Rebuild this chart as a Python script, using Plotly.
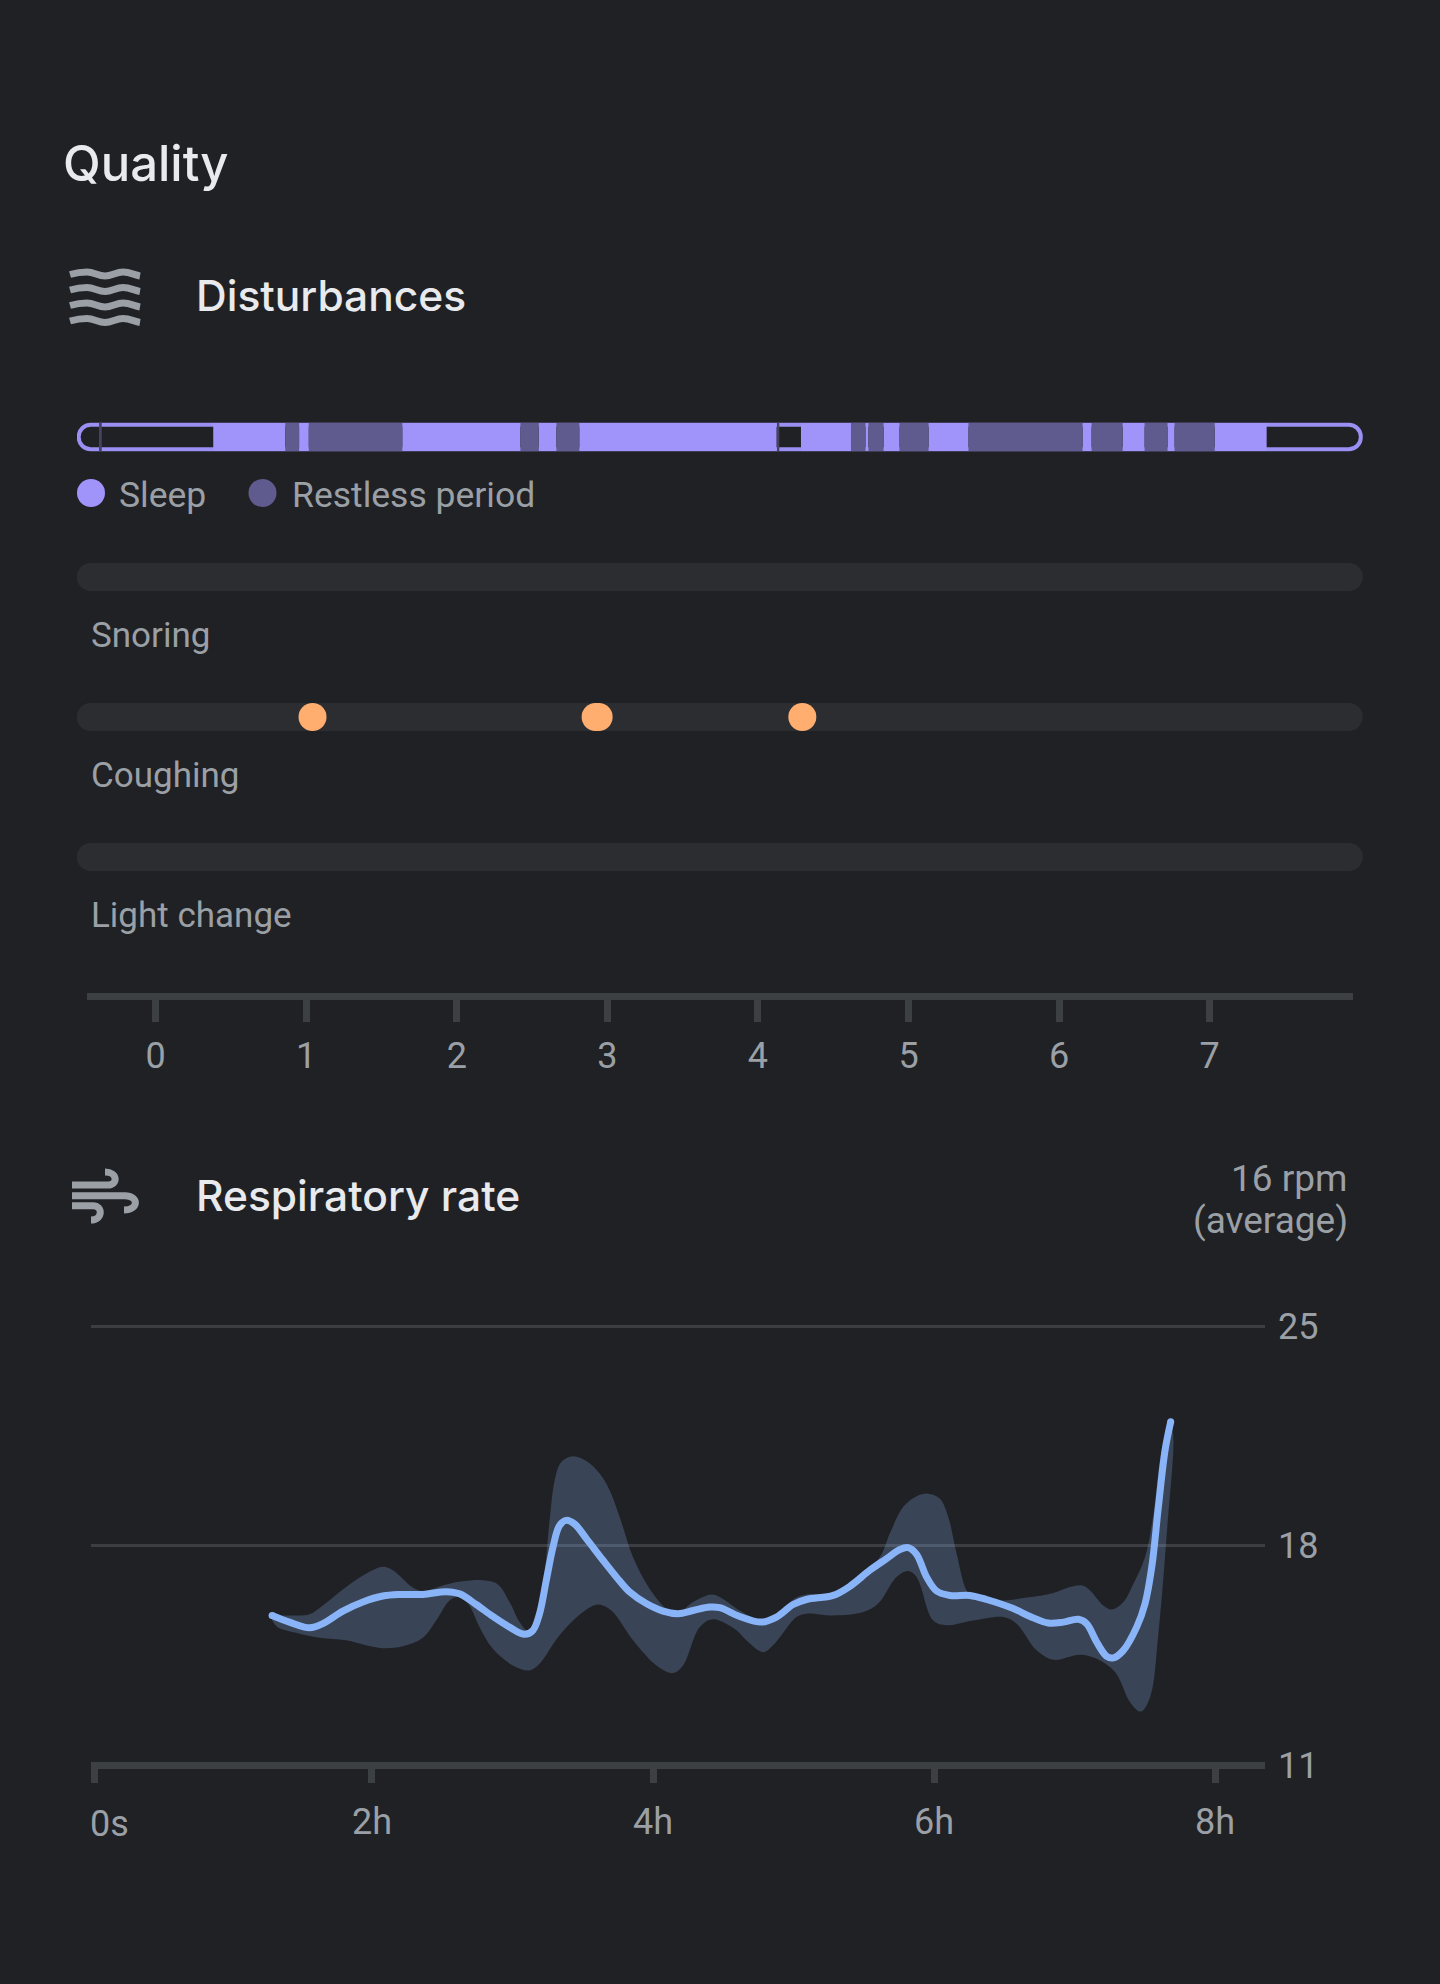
import plotly.graph_objects as go

W = 1440
H = 1984
BG = "#202124"
SLEEP = "#a094fb"
RESTLESS = "#5f5b8e"
TRACK = "#2b2d31"
ORANGE = "#ffae70"
AXIS = "#3c4043"
LABEL = "#9aa0a6"
HEAD = "#e8eaed"
BLUE = "#8ab4f8"

# disturbances, in hours
rows = ["Light change", "Coughing", "Snoring", "Sleep"]
track_start = -0.519
track_end = 8.017
sleep_start = [0.387, 0.957, 1.642, 2.548, 2.817, 4.288, 4.716, 4.836, 5.135, 6.157, 6.423, 6.721, 7.034]
sleep_end = [0.865, 1.021, 2.426, 2.665, 4.126, 4.620, 4.736, 4.942, 5.400, 6.217, 6.569, 6.768, 7.379]
restless_start = [0.865, 1.021, 2.426, 2.665, 4.620, 4.736, 4.942, 5.400, 6.217, 6.569, 6.768]
restless_end = [0.957, 1.642, 2.548, 2.817, 4.716, 4.836, 5.135, 6.157, 6.423, 6.721, 7.034]
gap_marks = [-0.365, 4.132]
cough_times = [1.046, 2.925, 2.945, 4.297]
hour_ticks = [0, 1, 2, 3, 4, 5, 6, 7]

# respiratory rate
rate_hours = [1.269, 1.393, 1.536, 1.631, 1.774, 1.917, 2.059, 2.178, 2.345, 2.512, 2.607, 2.726, 2.845, 2.964,
              3.071, 3.131, 3.178, 3.226, 3.274, 3.321, 3.369, 3.429, 3.512, 3.631, 3.726, 3.821, 3.940, 4.059,
              4.167, 4.274, 4.393, 4.464, 4.607, 4.762, 4.869, 4.988, 5.083, 5.274, 5.393, 5.535, 5.655, 5.750,
              5.809, 5.869, 5.940, 6.012, 6.107, 6.250, 6.369, 6.560, 6.679, 6.809, 6.917, 7.024, 7.083, 7.155,
              7.226, 7.274, 7.345, 7.440, 7.500, 7.548, 7.595, 7.643, 7.683]
rate_values = [15.78, 15.57, 15.39, 15.52, 15.92, 16.21, 16.40, 16.45, 16.45, 16.54, 16.47, 16.13, 15.75, 15.41,
               15.18, 15.31, 15.84, 16.90, 17.96, 18.65, 18.81, 18.69, 18.23, 17.54, 17.01, 16.53, 16.16, 15.92,
               15.84, 15.94, 16.05, 16.03, 15.75, 15.57, 15.73, 16.13, 16.29, 16.42, 16.71, 17.22, 17.59, 17.88,
               17.94, 17.73, 17.01, 16.56, 16.42, 16.42, 16.29, 16.00, 15.75, 15.54, 15.57, 15.66, 15.52, 14.93,
               14.48, 14.43, 14.67, 15.41, 16.16, 17.33, 19.24, 21.05, 21.95]

upper_hours = [1.269, 1.393, 1.536, 1.631, 1.797, 1.940, 2.059, 2.131, 2.274, 2.345, 2.512, 2.631, 2.774, 2.881,
               2.964, 3.036, 3.095, 3.155, 3.202, 3.250, 3.286, 3.333, 3.417, 3.512, 3.607, 3.678, 3.750, 3.845,
               3.964, 4.083, 4.167, 4.274, 4.405, 4.464, 4.607, 4.762, 4.869, 5.000, 5.083, 5.274, 5.417, 5.607,
               5.678, 5.774, 5.869, 5.952, 6.036, 6.095, 6.155, 6.226, 6.274, 6.488, 6.655, 6.845, 6.964, 7.048,
               7.107, 7.202, 7.262, 7.345, 7.417, 7.500, 7.560, 7.619, 7.683]
upper_values = [15.78, 15.78, 15.82, 16.10, 16.69, 17.11, 17.33, 17.22, 16.67, 16.56, 16.77, 16.87, 16.90, 16.77,
                16.21, 15.57, 15.29, 15.73, 16.69, 18.81, 20.09, 20.67, 20.85, 20.70, 20.30, 19.77, 18.92, 17.64,
                16.63, 16.00, 15.87, 16.21, 16.45, 16.37, 15.94, 15.62, 15.78, 16.32, 16.45, 16.50, 16.85, 17.64,
                18.39, 19.24, 19.58, 19.66, 19.50, 18.92, 17.75, 16.58, 16.37, 16.26, 16.35, 16.50, 16.69, 16.74,
                16.58, 16.10, 15.97, 16.21, 16.79, 17.64, 19.03, 21.05, 21.95]

lower_hours = [1.269, 1.309, 1.440, 1.607, 1.797, 1.940, 2.059, 2.202, 2.345, 2.440, 2.536, 2.595, 2.667, 2.750,
               2.845, 2.988, 3.107, 3.178, 3.321, 3.488, 3.595, 3.690, 3.845, 4.012, 4.131, 4.202, 4.321, 4.417,
               4.583, 4.654, 4.774, 4.845, 5.012, 5.083, 5.274, 5.488, 5.595, 5.726, 5.809, 5.869, 5.988, 6.083,
               6.274, 6.488, 6.583, 6.726, 6.845, 7.036, 7.155, 7.286, 7.393, 7.469, 7.536, 7.595, 7.655, 7.702, 7.683]
lower_values = [15.62, 15.41, 15.23, 15.07, 14.99, 14.83, 14.74, 14.80, 15.07, 15.62, 16.26, 16.37, 16.16, 15.41,
                14.72, 14.19, 14.03, 14.24, 15.15, 15.89, 16.13, 15.94, 14.99, 14.19, 13.95, 14.19, 15.41, 15.66,
                15.31, 14.99, 14.61, 14.83, 15.73, 15.84, 15.78, 15.89, 16.16, 17.01, 17.20, 17.01, 15.62, 15.47,
                15.62, 15.73, 15.52, 14.67, 14.37, 14.53, 14.40, 13.98, 13.02, 12.72, 13.18, 15.20, 18.39, 21.47, 21.95]

rate_tick_hours = [0, 1.982, 3.988, 5.994, 8]
rate_tick_text = ["", "2h", "4h", "6h", "8h"]
rpm_ticks = [11, 18, 25]


def px(x):
    return x / W


def py(y):
    return 1 - y / H


def text(x, y, s, size, color=LABEL, font="Roboto", anchor="left", weight=400):
    return dict(x=px(x), y=py(y), xref="paper", yref="paper", text=s, showarrow=False, xanchor=anchor,
                yanchor="middle", align=anchor, font=dict(family=font, size=size, color=color, weight=weight))


def bars(starts, ends, row, color, width=0.2, **kw):
    return go.Bar(y=[row] * len(starts), x=[e - s for s, e in zip(starts, ends)], base=starts,
                  orientation="h", width=width, marker=dict(color=color, line=dict(width=0), **kw),
                  xaxis="x", yaxis="y", hoverinfo="skip")


fig = go.Figure()

for r in rows[:3]:
    fig.add_trace(bars([track_start], [track_end], r, TRACK, cornerradius=14))

# outline of the time in bed, sleep drawn on top
fig.add_trace(go.Bar(y=["Sleep"], x=[track_end - track_start - 0.026], base=[track_start + 0.013], orientation="h",
                     width=0.175, marker=dict(color=BG, cornerradius=12, line=dict(color="#9a8ff2", width=4)),
                     hoverinfo="skip"))
fig.add_trace(bars(gap_marks, [g + 0.012 for g in gap_marks], "Sleep", "#45435f"))
fig.add_trace(bars(sleep_start, sleep_end, "Sleep", SLEEP))
fig.add_trace(bars(restless_start, restless_end, "Sleep", RESTLESS))

fig.add_trace(go.Scatter(x=cough_times, y=["Coughing"] * len(cough_times), mode="markers",
                         marker=dict(color=ORANGE, size=28, line=dict(width=0)), xaxis="x", yaxis="y",
                         hoverinfo="skip"))

# respiratory rate band and line
fig.add_trace(go.Scatter(x=upper_hours + lower_hours[::-1], y=upper_values + lower_values[::-1], mode="lines",
                         fill="toself", fillcolor="rgba(138,180,248,0.24)",
                         line=dict(width=0, shape="spline", smoothing=1), xaxis="x2", yaxis="y2",
                         hoverinfo="skip"))
fig.add_trace(go.Scatter(x=rate_hours, y=rate_values, mode="lines",
                         line=dict(color=BLUE, width=7, shape="spline", smoothing=1), xaxis="x2", yaxis="y2",
                         hoverinfo="skip"))
# round ends of the line
fig.add_trace(go.Scatter(x=[rate_hours[0], rate_hours[-1]], y=[rate_values[0], rate_values[-1]], mode="markers",
                         marker=dict(color=BLUE, size=7, line=dict(width=0)), xaxis="x2", yaxis="y2",
                         hoverinfo="skip"))

# pointless traces, they only keep the two axis-only subplots alive
fig.add_trace(go.Scatter(x=hour_ticks, y=[None] * len(hour_ticks), xaxis="x3", yaxis="y4", hoverinfo="skip"))
fig.add_trace(go.Scatter(x=rate_tick_hours, y=[None] * len(rate_tick_hours), xaxis="x2", yaxis="y3",
                         hoverinfo="skip"))

waves = [274, 289.5, 305, 320.5]
wave_paths = []
for c in waves:
    wave_paths.append(
        f"M {px(70)},{py(c + 0.5)} C {px(77)},{py(c - 1.5)} {px(81)},{py(c - 2)} {px(87)},{py(c - 2)} "
        f"C {px(94)},{py(c - 2)} {px(98)},{py(c + 2)} {px(105)},{py(c + 2)} "
        f"C {px(112)},{py(c + 2)} {px(116)},{py(c - 2)} {px(123)},{py(c - 2)} "
        f"C {px(130)},{py(c - 2)} {px(134)},{py(c + 1)} {px(140)},{py(c + 2)}"
    )
wind_paths = [
    f"M {px(72)},{py(1185)} L {px(108)},{py(1185)} C {px(118)},{py(1185)} {px(118)},{py(1172)} {px(105)},{py(1172)}",
    f"M {px(72)},{py(1195.7)} L {px(125)},{py(1195.7)} C {px(139)},{py(1195.7)} {px(139)},{py(1210)} {px(124)},{py(1210)}",
    f"M {px(72)},{py(1205.7)} L {px(93)},{py(1205.7)} C {px(103)},{py(1205.7)} {px(103)},{py(1220)} {px(91)},{py(1220)}",
]
shapes = [dict(type="path", path=p, xref="paper", yref="paper", line=dict(color=LABEL, width=7))
          for p in wave_paths + wind_paths]
for cx, color in [(91, SLEEP), (262.5, RESTLESS)]:
    shapes.append(dict(type="circle", xref="paper", yref="paper", x0=px(cx - 14), x1=px(cx + 14),
                       y0=py(507), y1=py(479), fillcolor=color, line=dict(width=0)))

annotations = [
    text(60.5, 163, "Quality", 49, HEAD, "Inter", weight=500),
    text(194, 296, "Disturbances", 42.5, HEAD, "Inter", weight=500),
    text(194, 1195, "Respiratory rate", 42.5, HEAD, "Inter", weight=500),
    text(117, 494.5, "Sleep", 35.5),
    text(290, 494.5, "Restless period", 35.5),
    text(89, 635, "Snoring", 35),
    text(89, 775, "Coughing", 35),
    text(89, 915, "Light change", 35),
    text(1350, 1178, "16 rpm", 37, anchor="right"),
    text(1350, 1220, "(average)", 37, anchor="right"),
    text(88, 1824, "0s", 36),
]

fig.update_layout(
    width=W, height=H, margin=dict(l=0, r=0, t=0, b=0), paper_bgcolor=BG, plot_bgcolor="rgba(0,0,0,0)",
    showlegend=False, barmode="overlay", hovermode=False, shapes=shapes, annotations=annotations,
    font=dict(family="Roboto", color=LABEL),
    # bars and dots
    xaxis=dict(domain=[px(77), px(1363)], range=[-0.5173, 8.0185], visible=False, anchor="y", automargin=False),
    yaxis=dict(domain=[py(927), py(367)], type="category", categoryorder="array", categoryarray=rows,
               range=[-0.5, 3.5], visible=False, anchor="x", automargin=False),
    # hour axis under the disturbances
    xaxis3=dict(domain=[px(87), px(1353)], range=[-0.4555, 7.9516], anchor="y4", tickmode="array",
                tickvals=hour_ticks, ticks="outside", ticklen=22, tickwidth=7, tickcolor=AXIS, showline=True,
                linecolor=AXIS, linewidth=7, showgrid=False, zeroline=False, ticklabelstandoff=3, automargin=False,
                tickfont=dict(family="Roboto", size=36, color=LABEL)),
    yaxis4=dict(domain=[py(993), py(950)], range=[0, 1], visible=False, anchor="x3", automargin=False),
    # respiratory rate
    xaxis2=dict(domain=[px(91), px(1265)], range=[-0.0235, 8.356], anchor="y3", tickmode="array",
                tickvals=rate_tick_hours, ticktext=rate_tick_text, ticks="outside", ticklen=14, tickwidth=7,
                tickcolor=AXIS, showline=True, linecolor=AXIS, linewidth=7, showgrid=False, zeroline=False,
                ticklabelstandoff=8, automargin=False, tickfont=dict(family="Roboto", size=36, color=LABEL)),
    yaxis2=dict(domain=[py(1765.6), py(1310)], range=[11, 25.51], anchor="x2", side="right", tickmode="array",
                tickvals=rpm_ticks, ticks="", showline=False, zeroline=False, showgrid=True, gridcolor="#3c3e42",
                gridwidth=3, ticklabelstandoff=12, automargin=False,
                tickfont=dict(family="Roboto", size=36, color=LABEL)),
    yaxis3=dict(domain=[py(1762), py(1700)], range=[0, 1], visible=False, anchor="x2", automargin=False),
)

fig.write_html("out.html", config={"displayModeBar": False},
               post_script="document.body.style.margin='0';document.body.style.background='#202124';")
